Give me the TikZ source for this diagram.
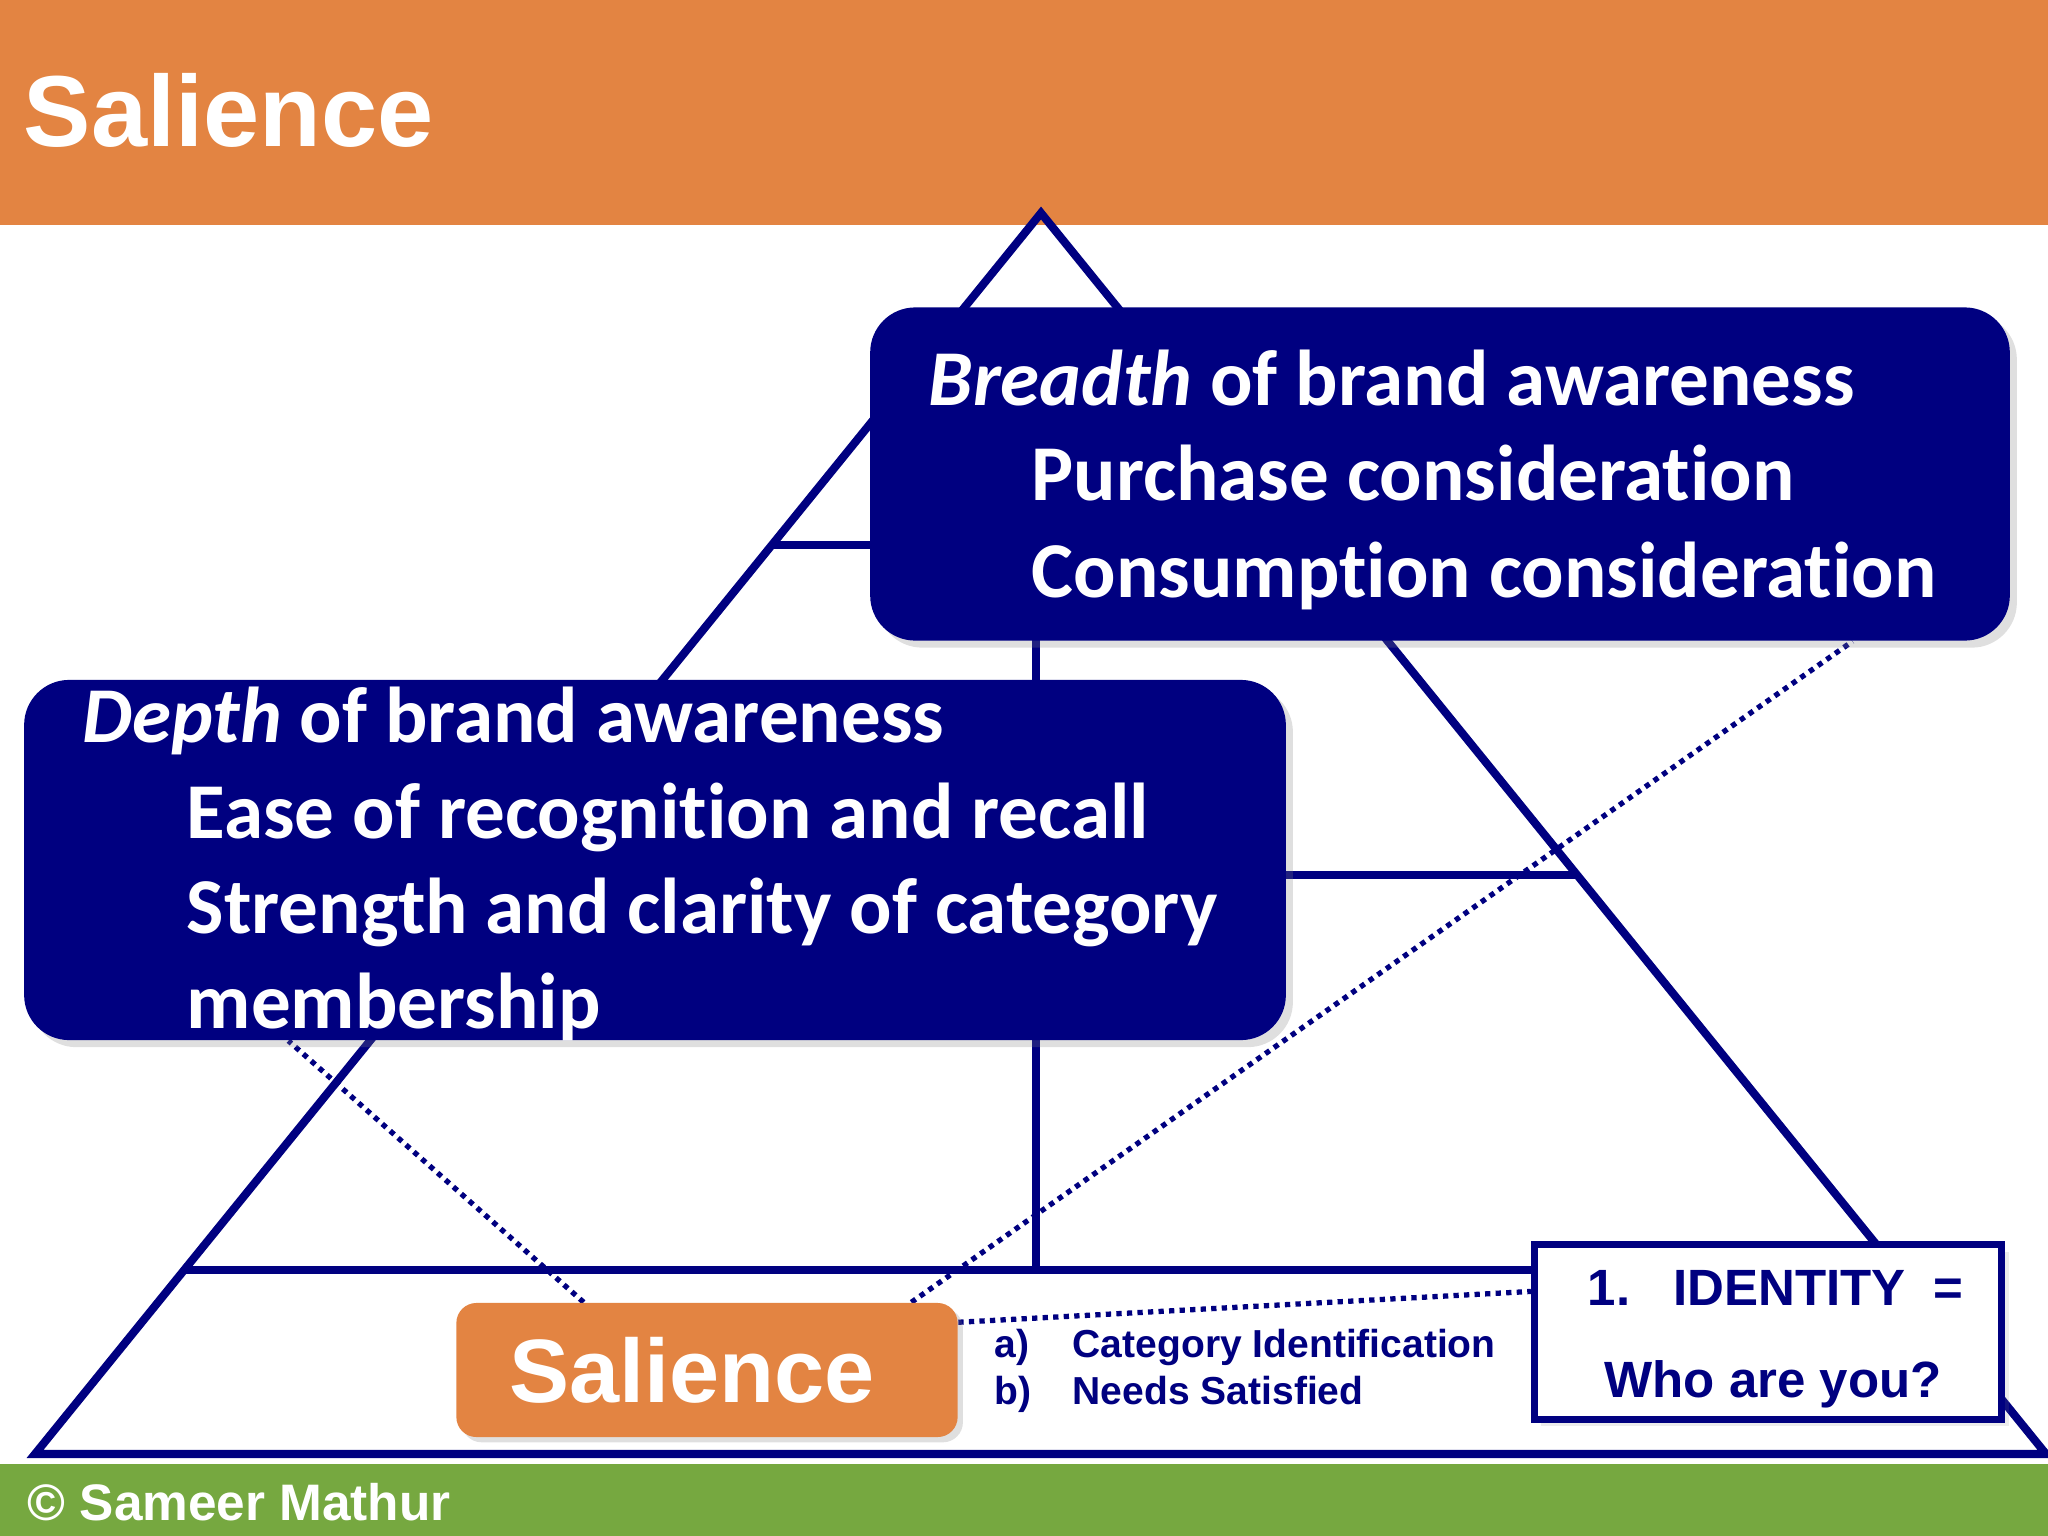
\documentclass[tikz,border=0pt]{standalone}
\usepackage{fontspec}
\setmainfont{Liberation Sans}
\newfontfamily\calibri[Ligatures=NoCommon]{Carlito}
\usepackage{tikz}
\usetikzlibrary{calc,positioning,shadows,backgrounds}
\definecolor{navyblue}{RGB}{0,0,128}
\definecolor{slideorange}{RGB}{227,132,66}
\definecolor{slidegreen}{RGB}{118,168,64}
\tikzset{
  bluebox/.style={fill=navyblue, rounded corners=0.45cm, inner sep=0,
    drop shadow={shadow xshift=2pt, shadow yshift=-2pt, opacity=0.25}},
  salbox/.style={fill=slideorange, rounded corners=0.2cm, inner sep=0, text=white,
    font=\bfseries\fontsize{25.6}{30}\selectfont,
    drop shadow={shadow xshift=1.5pt, shadow yshift=-1.5pt, opacity=0.25}},
  idbox/.style={draw=navyblue, fill=white, line width=2pt, inner sep=0,
    drop shadow={shadow xshift=2pt, shadow yshift=-2pt, opacity=0.15}},
  bigtxt/.style={text=white, inner sep=0, anchor=base west,
    font=\calibri\bfseries\fontsize{22.5}{27}\selectfont},
  idtxt/.style={text=navyblue, inner sep=0, font=\bfseries\fontsize{14.5}{17}\selectfont},
  listtxt/.style={text=navyblue, inner sep=0, anchor=base west,
    font=\bfseries\fontsize{11.1}{13}\selectfont},
  pyline/.style={navyblue, line width=2.3pt},
  dotline/.style={navyblue, line width=1.5pt, dash pattern=on 1.5pt off 1.5pt}
}
\begin{document}
\begin{tikzpicture}[x=0.01cm,y=-0.01cm]
  \useasboundingbox (0,0) rectangle (2048,1536);
  % boxes
  \node[bluebox, minimum width=11.39cm, minimum height=3.33cm] (breadth) at (1440,474) {};
  \node[bluebox, minimum width=12.61cm, minimum height=3.60cm] (depth) at (655,860) {};
  \node[salbox, minimum width=5.01cm, minimum height=1.34cm] (sal) at (707,1370) {Salience\hspace*{0.3cm}};
  \node[idbox, minimum width=4.67cm, minimum height=1.74cm] (idbox) at (1768,1332) {};

  % box texts
  \node[bigtxt] (b1) at (928,405) {\textit{Breadth} of brand awareness};
  \node[bigtxt] (b2) at (1031,500) {Purchase consideration};
  \node[bigtxt] (b3) at (1031,597) {Consumption consideration};
  \node[bigtxt] (d1) at (82,742) {\textit{Depth} of brand awareness};
  \node[bigtxt] (d2) at (186,838) {Ease of recognition and recall};
  \node[bigtxt] (d3) at (186,933) {Strength and clarity of category};
  \node[bigtxt] (d4) at (186,1028) {membership};

  \node[idtxt, anchor=base west] (id1) at (1587,1305) {1.\hspace{0.43cm}IDENTITY\hspace{0.28cm}=};
  \node[idtxt, anchor=base] (id2) at (1773,1397) {Who are you?};
  \node[listtxt] (la) at (994,1357) {\makebox[0.78cm][l]{a)}Category Identification};
  \node[listtxt] (lb) at (994,1404) {\makebox[0.78cm][l]{b)}Needs Satisfied};

  % title and footer
  \node[text=white, inner sep=0, anchor=base west, font=\bfseries\fontsize{28.7}{34}\selectfont] (title) at (23,146) {Salience};
  \node[text=white, inner sep=0, anchor=base west, font=\bfseries\fontsize{14.6}{17}\selectfont] (foot) at (27,1520) {© Sameer Mathur};

  \begin{scope}[on background layer]
    % bands
    \fill[slideorange] (0,0) rectangle (2048,225);
    \fill[slidegreen] (0,1464) rectangle (2048,1536);
    % pyramid
    \coordinate (apex) at (1041,213);
    \coordinate (bl) at (35,1454);
    \coordinate (br) at (2046,1454);
    \draw[pyline] (apex) -- (bl) -- (br) -- cycle;
    \foreach \t in {0.2675,0.5334,0.8517}
      \draw[pyline] ($(apex)!\t!(bl)$) -- ($(apex)!\t!(br)$);
    \draw[pyline] (1036,545) -- (1036,1270);
    % dotted links
    \draw[dotline] ($(sal.north west)+(128,0)$) -- ($(depth.south west)+(265,0)$);
    \draw[dotline] ($(sal.north east)+(-47,0)$) -- ($(breadth.south east)+(-158,0)$);
    \draw[dotline] ($(sal.north east)+(0,20)$) -- ($(idbox.north west)+(0,50)$);
  \end{scope}
\end{tikzpicture}
\end{document}
